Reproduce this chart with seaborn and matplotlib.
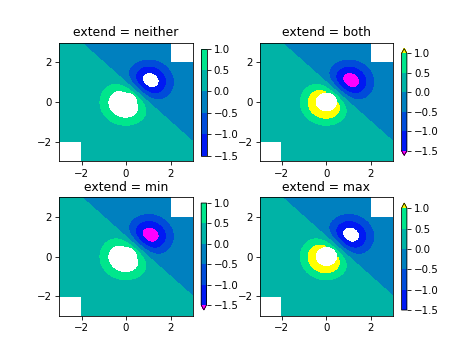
import numpy as np
import matplotlib
matplotlib.use("Agg")
import matplotlib.pyplot as plt
import seaborn as sns

sns.reset_orig()

# Data definition
levels = [-1.5, -1.0, -0.5, 0.0, 0.5, 1.0]
extends = ["neither", "both", "min", "max"]
peak1_center = [0.0, 0.0]
peak2_center = [1.0, 1.0]
amplitude = 2.0
mask_radius = 0.5
grid_start, grid_stop, grid_step = -3.0, 3.01, 0.025

x = y = np.arange(grid_start, grid_stop, grid_step)
X, Y = np.meshgrid(x, y)
Z1 = np.exp(-(X - peak1_center[0])**2 - (Y - peak1_center[1])**2)
Z2 = np.exp(-(X - peak2_center[0])**2 - (Y - peak2_center[1])**2)
Z = (Z1 - Z2) * amplitude

nr, nc = Z.shape
Z[-nr // 6:, -nc // 6:] = np.nan
Z = np.ma.array(Z)
Z[:nr // 6, :nc // 6] = np.ma.masked
interior = np.sqrt(X**2 + Y**2) < mask_radius
Z[interior] = np.ma.masked

cmap = plt.colormaps["winter"].with_extremes(under="magenta", over="yellow")

fig, axs = plt.subplots(2, 2, figsize=(474 / 74, 355 / 74), dpi=74)
fig.subplots_adjust(hspace=0.3)
for ax, extend in zip(axs.flat, extends):
    cs = ax.contourf(X, Y, Z, levels, cmap=cmap, extend=extend, origin="lower")
    fig.colorbar(cs, ax=ax, shrink=0.9)
    ax.set_title("extend = %s" % extend)
    ax.locator_params(nbins=4)

fig.savefig("out.png", dpi=74)
